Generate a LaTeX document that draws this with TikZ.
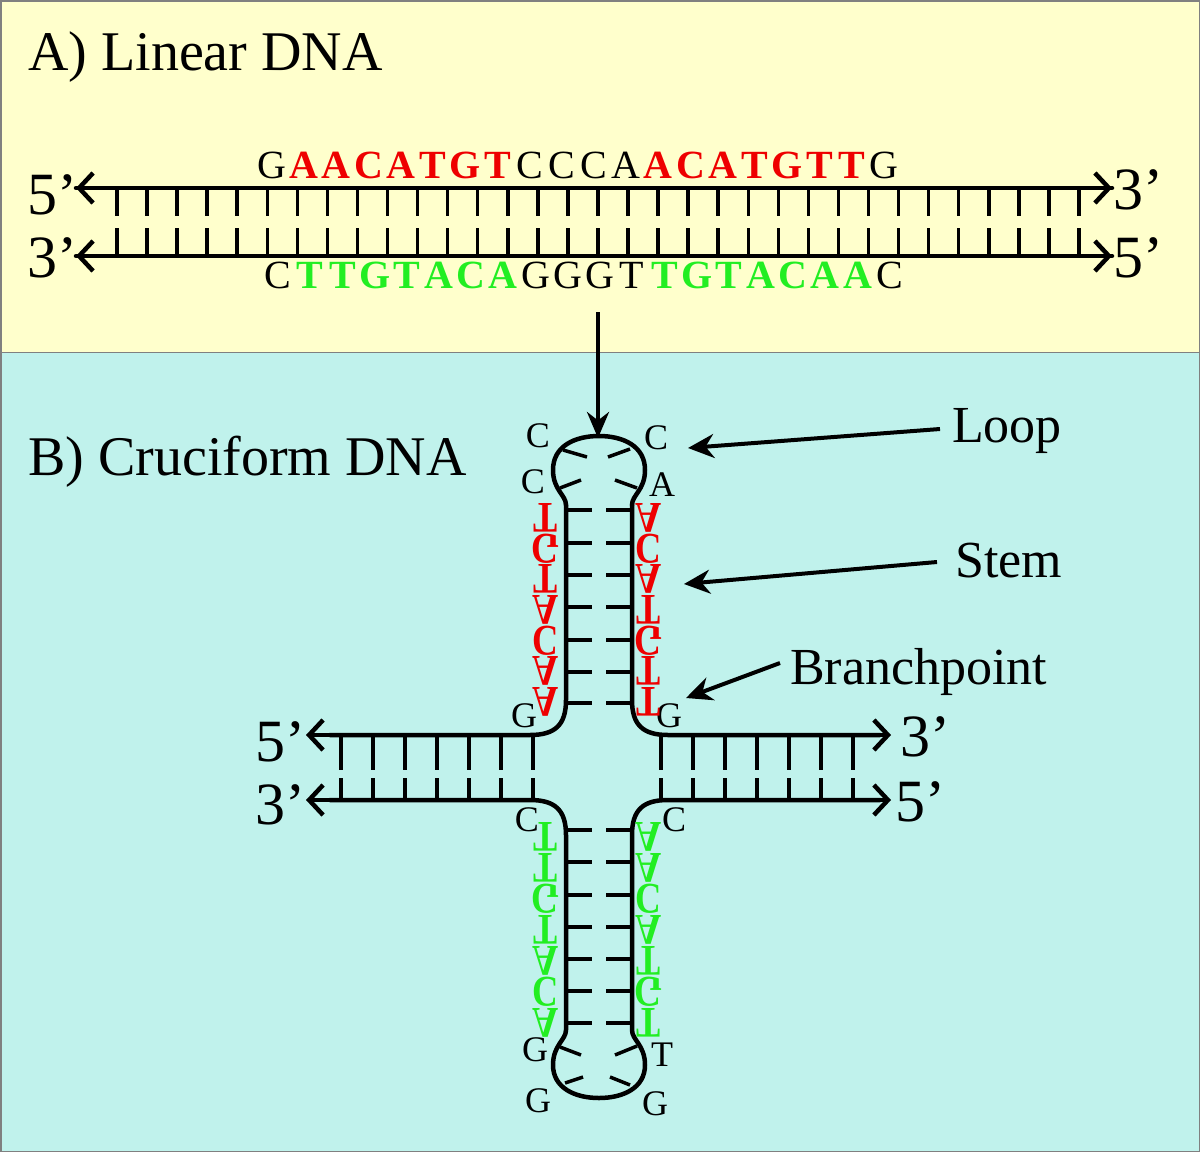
\documentclass[tikz,border=0pt]{standalone}
\usepackage{fontspec}
\setmainfont{Liberation Serif}
\usetikzlibrary{arrows.meta}
\definecolor{ybg}{HTML}{FFFFCC}
\definecolor{cbg}{HTML}{C0F2EC}
\definecolor{dred}{HTML}{EE0000}
\definecolor{dgreen}{HTML}{22EE22}
\begin{document}
\begin{tikzpicture}[x=1pt,y=-1pt,
  strand/.style={line width=4.5pt,line cap=round},
  tick/.style={line width=3.5pt},
  barb/.style={strand,-{Straight Barb[length=14pt,width=30pt,line width=4.5pt]}},
  seq/.style={font=\fontsize{40}{42}\selectfont,inner sep=0pt},
  bseq/.style={font=\fontsize{40}{42}\selectfont\bfseries,inner sep=0pt},
  sl/.style={font=\fontsize{38}{40}\selectfont\bfseries,inner sep=0pt,yscale=-1.15,xscale=0.95},
  bl/.style={font=\fontsize{36}{38}\selectfont,inner sep=0pt},
  endl/.style={font=\fontsize{60}{62}\selectfont,inner sep=0pt},
  title/.style={font=\fontsize{56}{58}\selectfont,inner sep=0pt,anchor=base west},
  lab/.style={font=\fontsize{52}{54}\selectfont,inner sep=0pt,anchor=base west},
  point/.style={line width=4pt,-{Stealth[length=26pt,width=24pt]}}]
\useasboundingbox (0,0) rectangle (1200,1152);
\fill[ybg] (0,0) rectangle (1200,352);
\fill[cbg] (0,352) rectangle (1200,1152);
\draw[gray,line width=1.5pt] (0.75,0.75) rectangle (1199.25,1151.25);
\draw[gray,line width=1pt] (0,352) -- (1200,352);
% titles
\node[title] (ta) at (28,70) {A) Linear DNA};
\node[title] (tb) at (28,475) {B) Cruciform DNA};
% linear DNA
\coordinate (l1) at (76,188); \coordinate (r1) at (1112,188);
\coordinate (l2) at (76,256); \coordinate (r2) at (1112,256);
\draw[barb] (r1) -- (l1);
\draw[barb] (l1) -- (r1);
\draw[barb] (r2) -- (l2);
\draw[barb] (l2) -- (r2);
\foreach \i in {0,...,32}{
  \draw[tick] ({117+30.06*\i},188) -- ({117+30.06*\i},216);
  \draw[tick] ({117+30.06*\i},228) -- ({117+30.06*\i},256);
}
\node[endl] (a5l) at (52,195) {5’};
\node[endl] (a3l) at (52,258) {3’};
\node[endl] (a3r) at (1138,190) {3'};
\node[endl] (a5r) at (1138,258) {5’};
\foreach \c [count=\i from 0] in {G,A,A,C,A,T,G,T,C,C,C,A,A,C,A,T,G,T,T,G}{
  \pgfmathtruncatemacro\red{(\i>0 && \i<8) || (\i>11 && \i<19) ? 1 : 0}
  \ifnum\red=1
    \node[bseq,text=dred] (s\i) at ({272+32.2*\i},165) {\c};
  \else
    \node[seq] (s\i) at ({272+32.2*\i},165) {\c};
  \fi
}
\foreach \c [count=\i from 0] in {C,T,T,G,T,A,C,A,G,G,G,T,T,G,T,A,C,A,A,C}{
  \pgfmathtruncatemacro\grn{(\i>0 && \i<8) || (\i>11 && \i<19) ? 1 : 0}
  \ifnum\grn=1
    \node[bseq,text=dgreen] (b\i) at ({278+32.2*\i},275) {\c};
  \else
    \node[seq] (b\i) at ({278+32.2*\i},275) {\c};
  \fi
}
% transition arrow
\coordinate (tr1) at (598,312); \coordinate (tr2) at (598,438);
\draw[line width=4pt,-{Stealth[length=26pt,width=22pt]}] (tr1) -- (tr2);
% cruciform strands
\draw[strand] (566,505) .. controls (566,495) and (553,490) .. (553,470)
  .. controls (553,446) and (575,436) .. (599,436)
  .. controls (623,436) and (645,446) .. (645,470)
  .. controls (645,490) and (632,495) .. (632,505);
\draw[strand] (566,505) -- (566,700) .. controls (566,725) and (555,735) .. (530,735) -- (330,735);
\draw[barb] (340,735) -- (306,735);
\draw[strand] (632,505) -- (632,700) .. controls (632,725) and (643,735) .. (668,735) -- (880,735);
\draw[barb] (870,735) -- (891,735);
\draw[strand] (330,800) -- (530,800) .. controls (555,800) and (566,810) .. (566,835) -- (566,1030)
  .. controls (566,1040) and (553,1045) .. (553,1065)
  .. controls (553,1088) and (575,1098) .. (599,1098)
  .. controls (623,1098) and (645,1088) .. (645,1065)
  .. controls (645,1045) and (632,1040) .. (632,1030)
  -- (632,835) .. controls (632,810) and (643,800) .. (668,800) -- (880,800);
\draw[barb] (340,800) -- (306,800);
\draw[barb] (870,800) -- (891,800);
% arm ticks
\foreach \x in {341,373,405,437,469,501,533,661,693,725,757,789,821,853}{
  \draw[tick] (\x,735) -- (\x,770);
  \draw[tick] (\x,778) -- (\x,800);
}
% stem rungs
\foreach \y in {510,543,575,607,640,672,703,830,862,895,927,959,991,1023}{
  \draw[tick] (566,\y) -- (592,\y);
  \draw[tick] (606,\y) -- (632,\y);
}
% loop rungs
\draw[tick] (563,450) -- (587,457);
\draw[tick] (560,488) -- (581,480);
\draw[tick] (608,457) -- (630,449);
\draw[tick] (615,480) -- (637,488);
\draw[tick] (560,1047) -- (581,1055);
\draw[tick] (565,1083) -- (583,1077);
\draw[tick] (615,1055) -- (637,1046);
\draw[tick] (610,1077) -- (630,1085);
% arm labels
\node[endl] (c5l) at (280,742) {5’};
\node[endl] (c3l) at (280,805) {3’};
\node[endl] (c3r) at (925,737) {3'};
\node[endl] (c5r) at (920,802) {5’};
% loop letters
\node[bl] (lc1) at (538,436) {C};
\node[bl] (lc2) at (656,438) {C};
\node[bl] (lc3) at (533,482) {C};
\node[bl] (la4) at (662,485) {A};
\node[bl] (g1) at (524,716) {G};
\node[bl] (g2) at (669,716) {G};
\node[bl] (c1) at (527,820) {C};
\node[bl] (c2) at (674,820) {C};
\node[bl] (bg1) at (535,1050) {G};
\node[bl] (bt1) at (662,1055) {T};
\node[bl] (bg2) at (538,1101) {G};
\node[bl] (bg3) at (655,1104) {G};
\foreach \c [count=\i from 0] in {T,G,T,A,C,A,A}
  \node[sl,text=dred] (rl\i) at (546,{518+30.6*\i}) {\c};
\foreach \c [count=\i from 0] in {A,C,A,T,G,T,T}
  \node[sl,text=dred] (rr\i) at (649,{518+30.6*\i}) {\c};
\foreach \c [count=\i from 0] in {T,T,G,T,A,C,A}
  \node[sl,text=dgreen] (gl\i) at (546,{837+31*\i}) {\c};
\foreach \c [count=\i from 0] in {A,A,C,A,T,G,T}
  \node[sl,text=dgreen] (gr\i) at (649,{837+31*\i}) {\c};
% pointer labels
\node[lab] (loop) at (952,442) {Loop};
\node[lab] (stem) at (955,577) {Stem};
\node[lab] (bp) at (790,684) {Branchpoint};
\coordinate (pl) at (688,448);
\coordinate (ps) at (684,584);
\coordinate (pb) at (686,698);
\draw[point] (940,429) -- (pl);
\draw[point] (937,562) -- (ps);
\draw[point] (780,663) -- (pb);
\end{tikzpicture}
\end{document}
